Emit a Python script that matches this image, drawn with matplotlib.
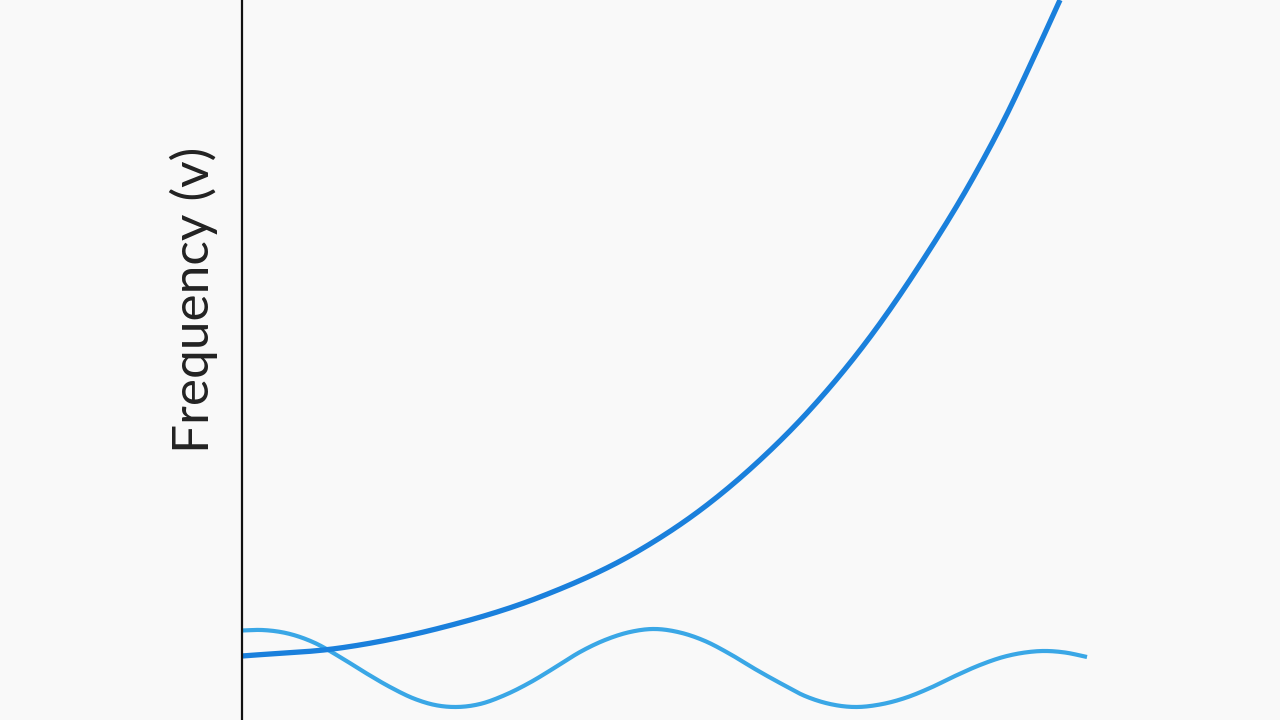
import matplotlib
matplotlib.use("Agg")
import matplotlib.pyplot as plt
import numpy as np

# Main curve (time vs frequency)
main_t = [0.00, 0.98, 1.98, 2.98, 3.98, 4.65, 5.18, 5.65, 6.31, 6.81, 7.31, 7.65, 7.91, 8.18]
main_f = [0.64, 0.72, 0.92, 1.23, 1.70, 2.15, 2.60, 3.07, 3.87, 4.60, 5.42, 6.06, 6.61, 7.20]

# Oscillating curve
wave_t = [0.00, 0.20, 0.48, 0.73, 0.98, 1.23, 1.48, 1.73, 1.93, 2.13, 2.38, 2.63, 2.88, 3.13,
          3.38, 3.63, 3.88, 4.11, 4.38, 4.63, 4.88, 5.13, 5.38, 5.63, 5.88, 6.13, 6.38, 6.63,
          6.88, 7.13, 7.38, 7.63, 7.83, 8.01, 8.23, 8.45]
wave_f = [0.895, 0.90, 0.86, 0.77, 0.63, 0.475, 0.33, 0.21, 0.15, 0.13, 0.16, 0.25, 0.375, 0.525,
          0.68, 0.80, 0.88, 0.91, 0.875, 0.79, 0.66, 0.51, 0.37, 0.24, 0.16, 0.13, 0.155, 0.22,
          0.32, 0.44, 0.55, 0.635, 0.675, 0.69, 0.675, 0.63]

y_label = "Frequency (v)"


def smooth_path(x, y, n=30):
    """Cubic Hermite rendering through the read points (drawing only)."""
    x = np.asarray(x, float)
    y = np.asarray(y, float)
    m = np.zeros_like(y)
    h = np.diff(x)
    d = np.diff(y) / h
    m[0], m[-1] = d[0], d[-1]
    for i in range(1, len(x) - 1):
        m[i] = (h[i] * d[i - 1] + h[i - 1] * d[i]) / (h[i - 1] + h[i])
    xs, ys = [], []
    for i in range(len(x) - 1):
        s = np.linspace(0, 1, n, endpoint=(i == len(x) - 2))
        h00 = 2 * s**3 - 3 * s**2 + 1
        h10 = s**3 - 2 * s**2 + s
        h01 = -2 * s**3 + 3 * s**2
        h11 = s**3 - s**2
        xs.append(x[i] + s * h[i])
        ys.append(h00 * y[i] + h10 * h[i] * m[i] + h01 * y[i + 1] + h11 * h[i] * m[i + 1])
    return np.concatenate(xs), np.concatenate(ys)


bg = "#f9f9f9"
fig = plt.figure(figsize=(12.8, 7.2), dpi=100, facecolor=bg)
ax = fig.add_axes([242 / 1280, 0, 1 - 242 / 1280, 1])
ax.set_facecolor(bg)

wx, wy = smooth_path(wave_t, wave_f)
mx, my = smooth_path(main_t, main_f)
ax.plot(wx, wy, color="#3aa7e6", lw=3.0, solid_capstyle="butt")
ax.plot(mx, my, color="#1a80dc", lw=3.8, solid_capstyle="butt")

ax.set_xlim(0, 10.38)
ax.set_ylim(0, 7.2)
for s in ["top", "right", "bottom"]:
    ax.spines[s].set_visible(False)
ax.spines["left"].set_color("#111111")
ax.spines["left"].set_linewidth(1.6)
ax.set_xticks([])
ax.set_yticks([])

fig.text(194 / 1280, 1 - 300 / 720, y_label, rotation=90, ha="center", va="center",
         fontsize=37, family="Lato", color="#222222")

fig.savefig("out.png", dpi=100, facecolor=bg)
